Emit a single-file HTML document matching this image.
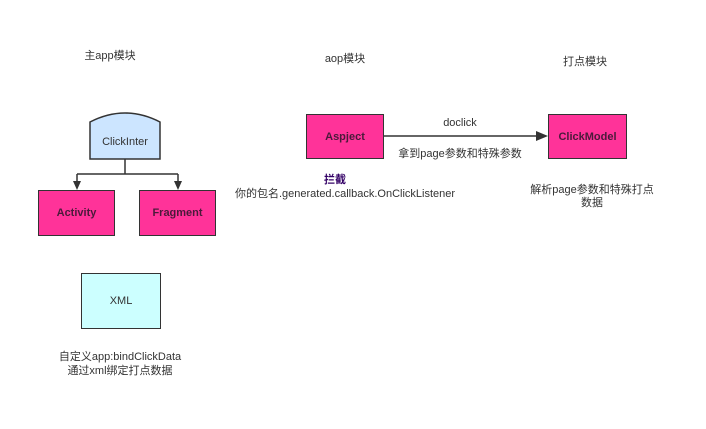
<!DOCTYPE html>
<html><head><meta charset="utf-8"><style>
body{margin:0;width:706px;height:429px;background:#fff;position:relative;overflow:hidden;font-family:"Liberation Sans","Noto Sans CJK SC",sans-serif;font-size:11px;color:#333}
.t{position:absolute;white-space:nowrap;text-align:center}
.b{position:absolute;box-sizing:border-box;border:1.5px solid #333;background:#ff3399;display:flex;align-items:center;justify-content:center;font-weight:bold;color:#4a1a3a;font-size:11px}
</style></head><body>
<div class="t" style="left:60px;top:47px;width:100px">主app模块</div>
<div class="t" style="left:300px;top:50px;width:90px">aop模块</div>
<div class="t" style="left:540px;top:53px;width:90px">打点模块</div>
<svg width="706" height="429" style="position:absolute;left:0;top:0">
<path d="M90,122 Q125,104 160,122 L160,159 L90,159 Z" fill="#cce5ff" stroke="#333" stroke-width="1.5"/>
<text x="125" y="145" font-size="11" text-anchor="middle" fill="#333" font-family="Liberation Sans">ClickInter</text>
<path d="M125,159 V174 M77,174 H178 M77,174 V182 M178,174 V182" stroke="#333" stroke-width="1.5" fill="none"/>
<path d="M73,181 L81,181 L77,190 Z M174,181 L182,181 L178,190 Z" fill="#333"/>
<path d="M384,136 H538" stroke="#333" stroke-width="1.5"/>
<path d="M536,131 L548,136 L536,141 Z" fill="#333"/>
</svg>
<div class="b" style="left:38px;top:190px;width:77px;height:46px">Activity</div>
<div class="b" style="left:139px;top:190px;width:77px;height:46px">Fragment</div>
<div class="b" style="left:306px;top:114px;width:78px;height:45px">Aspject</div>
<div class="b" style="left:548px;top:114px;width:79px;height:45px">ClickModel</div>
<div class="b" style="left:81px;top:273px;width:80px;height:56px;background:#ccffff;font-weight:normal;color:#333">XML</div>
<div class="t" style="left:420px;top:117px;width:80px">doclick</div>
<div class="t" style="left:390px;top:145px;width:140px">拿到page参数和特殊参数</div>
<div class="t" style="left:305px;top:171px;width:60px;font-weight:bold;color:#330066">拦截</div>
<div class="t" style="left:230px;top:185px;width:230px">你的包名.generated.callback.OnClickListener</div>
<div class="t" style="left:527px;top:184px;width:130px;line-height:13px">解析page参数和特殊打点<br>数据</div>
<div class="t" style="left:50px;top:350px;width:140px;line-height:14px">自定义app:bindClickData<br>通过xml绑定打点数据</div>
</body></html>
